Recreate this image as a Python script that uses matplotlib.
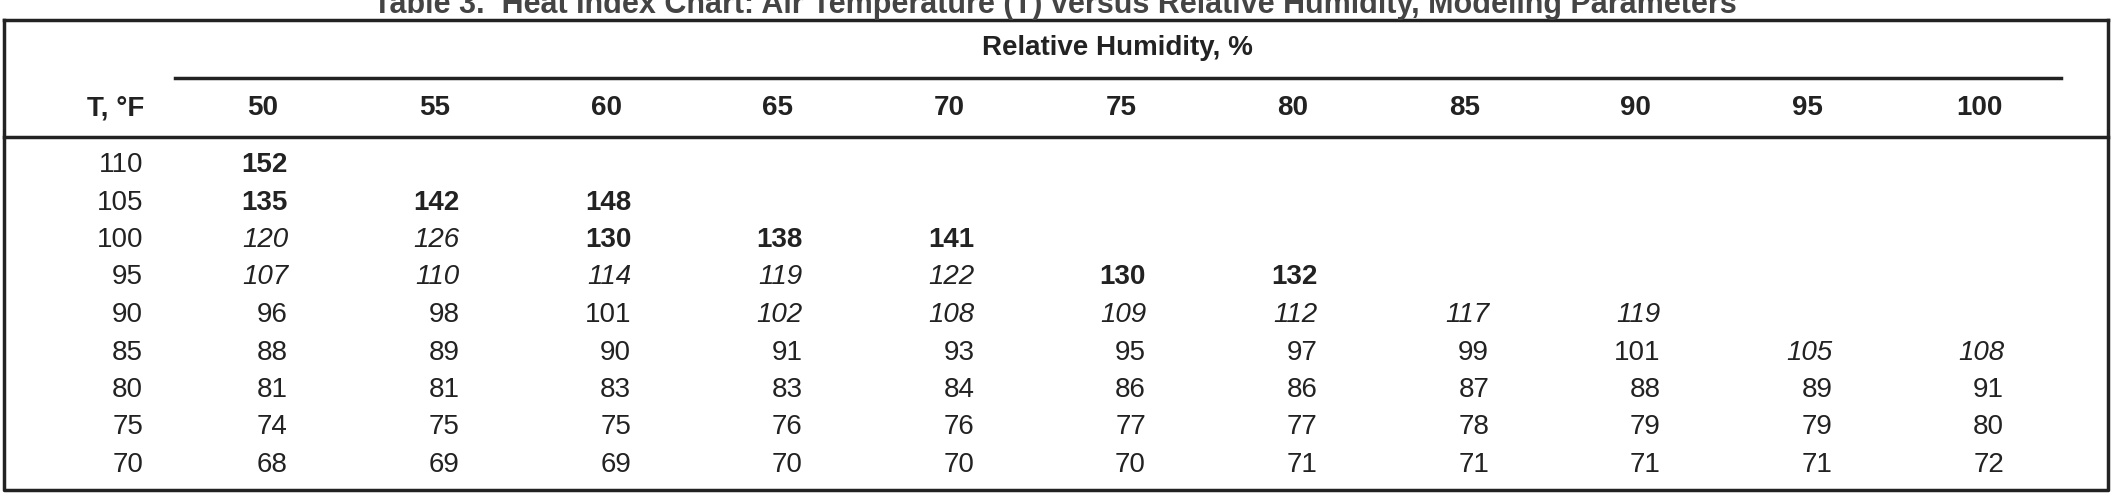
import matplotlib

matplotlib.use("Agg")
import matplotlib.pyplot as plt
from matplotlib import font_manager

# table values (None = blank cell); style: b = bold, i = italic, n = normal
temps = [110, 105, 100, 95, 90, 85, 80, 75, 70]
humidity = [50, 55, 60, 65, 70, 75, 80, 85, 90, 95, 100]
heat_index = [
    [152, None, None, None, None, None, None, None, None, None, None],
    [135, 142, 148, None, None, None, None, None, None, None, None],
    [120, 126, 130, 138, 141, None, None, None, None, None, None],
    [107, 110, 114, 119, 122, 130, 132, None, None, None, None],
    [96, 98, 101, 102, 108, 109, 112, 117, 119, None, None],
    [88, 89, 90, 91, 93, 95, 97, 99, 101, 105, 108],
    [81, 81, 83, 83, 84, 86, 86, 87, 88, 89, 91],
    [74, 75, 75, 76, 76, 77, 77, 78, 79, 79, 80],
    [68, 69, 69, 70, 70, 70, 71, 71, 71, 71, 72],
]
styles = [
    "bnnnnnnnnnn",
    "bbbnnnnnnnn",
    "iibbbnnnnnn",
    "iiiiibbnnnn",
    "nnniiiiiinn",
    "nnnnnnnnnii",
    "nnnnnnnnnnn",
    "nnnnnnnnnnn",
    "nnnnnnnnnnn",
]
title = "Table 3.  Heat Index Chart: Air Temperature (T) versus Relative Humidity, Modeling Parameters"

names = {f.name for f in font_manager.fontManager.ttflist}
family = ["Liberation Sans Narrow"] if "Liberation Sans Narrow" in names else ["Liberation Sans"]
plt.rcParams["font.family"] = family + ["DejaVu Sans"]

W, H = 2111, 497
fig = plt.figure(figsize=(W / 100, H / 100), dpi=100)
ax = fig.add_axes([0, 0, 1, 1])
ax.set_xlim(0, W)
ax.set_ylim(H, 0)
ax.axis("off")

col_right = [288 + 171.6 * i for i in range(len(humidity))]
t_right = 143
fs = 20
lc = "#222222"

# frame and rules
ax.plot([4, 4, W - 3, W - 3], [20, 490, 490, 20], color=lc, lw=2.5)
ax.plot([4, W - 3], [20, 20], color=lc, lw=2.5)
ax.plot([175, 2061], [78, 78], color=lc, lw=2.5)
ax.plot([4, W - 3], [137, 137], color=lc, lw=2.5)

# clipped title at top
ax.text(1055, 13, title, ha="center", va="baseline", fontsize=22, weight="bold", color="#444")

ax.text(1117, 48, "Relative Humidity, %", ha="center", va="center", fontsize=fs, weight="bold", color=lc)
ax.text(116, 108, "T, °F", ha="center", va="center", fontsize=fs, weight="bold", color=lc)
for x, h in zip(col_right, humidity):
    ax.text(x - 25, 108, str(h), ha="center", va="center", fontsize=fs, weight="bold", color=lc)

for r, (t, row, st) in enumerate(zip(temps, heat_index, styles)):
    y = 165 + 37.5 * r
    ax.text(t_right, y, str(t), ha="right", va="center", fontsize=fs, color=lc)
    for x, v, s in zip(col_right, row, st):
        if v is None:
            continue
        ax.text(x, y, str(v), ha="right", va="center", fontsize=fs, color=lc,
                weight="bold" if s == "b" else "normal",
                style="italic" if s == "i" else "normal")

fig.savefig("out.png", dpi=100)
